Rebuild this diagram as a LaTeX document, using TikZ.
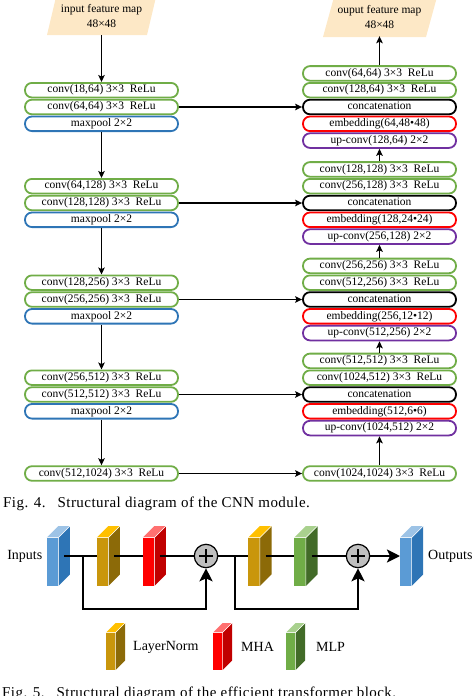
\documentclass[tikz,border=0pt]{standalone}
\usepackage{fontspec}
\setmainfont{Liberation Serif}
\usetikzlibrary{arrows.meta}
\definecolor{cgreen}{HTML}{70AD47}
\definecolor{cblue}{HTML}{2E75B6}
\definecolor{cred}{HTML}{FF0000}
\definecolor{cpurple}{HTML}{7030A0}
\definecolor{peach}{HTML}{FDE8C6}
\definecolor{bluefront}{HTML}{5B9BD5}
\definecolor{blueside}{HTML}{2E75B6}
\definecolor{bluetop}{HTML}{9DC3E6}
\definecolor{goldfront}{HTML}{C9960C}
\definecolor{goldside}{HTML}{8C6A08}
\definecolor{goldtop}{HTML}{FFC000}
\definecolor{redfront}{HTML}{FF0000}
\definecolor{redside}{HTML}{C00000}
\definecolor{redtop}{HTML}{FF7070}
\definecolor{greenfront}{HTML}{70AD47}
\definecolor{greenside}{HTML}{426B28}
\definecolor{greentop}{HTML}{A9D18E}
\newcommand{\boxfont}{\fontsize{11.5}{13}\selectfont}
\newcommand{\cubeblock}[9]{%
  \fill[#7] (#2,#3+#5) rectangle (#2+#4,#3+#6);
  \fill[#8] (#2+#4,#3+#5) -- (#2+#4+#5,#3) -- (#2+#4+#5,#3+#6-#5) -- (#2+#4,#3+#6) -- cycle;
  \fill[#9] (#2,#3+#5) -- (#2+#5,#3) -- (#2+#4+#5,#3) -- (#2+#4,#3+#5) -- cycle;
  \draw[white,line width=0.5pt] (#2+#4,#3+#6) -- (#2+#4,#3+#5) -- (#2,#3+#5) (#2+#4,#3+#5) -- (#2+#4+#5,#3);
  \node[inner sep=0pt, minimum width=#4, minimum height=#6-#5, anchor=north west] (#1) at (#2,#3+#5) {};
  \coordinate (#1w) at (#2,#3+#6/2);
  \coordinate (#1s) at (#2+#4+#5/2,#3+#6/2);
}
\begin{document}
\begin{tikzpicture}[x=1pt,y=-1pt,
  box/.style={rounded corners=7pt, line width=1.8pt, minimum width=153pt, minimum height=14.6pt,
    inner sep=0pt, font=\boxfont, text height=8pt, text depth=2.5pt, fill=white},
  gbox/.style={box, draw=cgreen},
  bbox/.style={box, draw=cblue},
  kbox/.style={box, draw=black},
  rbox/.style={box, draw=cred},
  pbox/.style={box, draw=cpurple},
  carr/.style={line width=1.5pt, -{Stealth[length=7pt,width=6.5pt,inset=1.5pt]}},
  tline/.style={line width=2.4pt},
  tarr/.style={line width=2.4pt, -{Stealth[length=13pt,width=13pt,inset=3pt]}},
  plusc/.style={circle, draw=black, line width=1.2pt, fill=black!25, minimum size=23.4pt, inner sep=0pt},
  lbl/.style={font=\fontsize{14}{16}\selectfont, inner sep=0pt},
  figcap/.style={font=\fontsize{15}{17}\selectfont\addfontfeatures{LetterSpace=3}, inner sep=0pt, anchor=base west},
  fmap/.style={inner sep=0pt, minimum width=96pt, minimum height=38pt, align=center, font=\fontsize{11.5}{15}\selectfont}
]
\useasboundingbox (0,0) rectangle (474,696);

% ---------- feature maps ----------
\fill[peach] (47,35) -- (56,-3) -- (156,-3) -- (147,35) -- cycle;
\node[fmap] (inp) at (101.5,16) {input feature map\\48×48};
\fill[peach] (323,37) -- (334,-3) -- (437,-3) -- (426,37) -- cycle;
\node[fmap] (out) at (379.5,17) {ouput feature map\\48×48};

% ---------- left column ----------
\node[gbox] (L1a) at (101.5,90.2) {conv(18,64) 3×3\ \ ReLu};
\node[gbox] (L1b) at (101.5,107) {conv(64,64) 3×3\ \ ReLu};
\node[bbox] (L1c) at (101.5,123.8) {maxpool 2×2};

\node[gbox] (L2a) at (101.5,186.2) {conv(64,128) 3×3\ \ ReLu};
\node[gbox] (L2b) at (101.5,203) {conv(128,128) 3×3\ \ ReLu};
\node[bbox] (L2c) at (101.5,219.8) {maxpool 2×2};

\node[gbox] (L3a) at (101.5,282.7) {conv(128,256) 3×3\ \ ReLu};
\node[gbox] (L3b) at (101.5,299.5) {conv(256,256) 3×3\ \ ReLu};
\node[bbox] (L3c) at (101.5,316.3) {maxpool 2×2};

\node[gbox] (L4a) at (101.5,377.7) {conv(256,512) 3×3\ \ ReLu};
\node[gbox] (L4b) at (101.5,394.5) {conv(512,512) 3×3\ \ ReLu};
\node[bbox] (L4c) at (101.5,411.3) {maxpool 2×2};

\node[gbox] (L5) at (101.5,473.5) {conv(512,1024) 3×3\ \ ReLu};

% ---------- right column ----------
\node[gbox] (R1a) at (379.5,73.4) {conv(64,64) 3×3\ \ ReLu};
\node[gbox] (R1b) at (379.5,90.2) {conv(128,64) 3×3\ \ ReLu};
\node[kbox] (R1c) at (379.5,107) {concatenation};
\node[rbox] (R1d) at (379.5,123.8) {embedding(64,48•48)};
\node[pbox] (R1e) at (379.5,140.6) {up-conv(128,64) 2×2};

\node[gbox] (R2a) at (379.5,169.4) {conv(128,128) 3×3\ \ ReLu};
\node[gbox] (R2b) at (379.5,186.2) {conv(256,128) 3×3\ \ ReLu};
\node[kbox] (R2c) at (379.5,203) {concatenation};
\node[rbox] (R2d) at (379.5,219.8) {embedding(128,24•24)};
\node[pbox] (R2e) at (379.5,236.6) {up-conv(256,128) 2×2};

\node[gbox] (R3a) at (379.5,265.9) {conv(256,256) 3×3\ \ ReLu};
\node[gbox] (R3b) at (379.5,282.7) {conv(512,256) 3×3\ \ ReLu};
\node[kbox] (R3c) at (379.5,299.5) {concatenation};
\node[rbox] (R3d) at (379.5,316.3) {embedding(256,12•12)};
\node[pbox] (R3e) at (379.5,333.1) {up-conv(512,256) 2×2};

\node[gbox] (R4a) at (379.5,360.9) {conv(512,512) 3×3\ \ ReLu};
\node[gbox] (R4b) at (379.5,377.7) {conv(1024,512) 3×3\ \ ReLu};
\node[kbox] (R4c) at (379.5,394.5) {concatenation};
\node[rbox] (R4d) at (379.5,411.3) {embedding(512,6•6)};
\node[pbox] (R4e) at (379.5,428.1) {up-conv(1024,512) 2×2};

\node[gbox] (R5) at (379.5,473.5) {conv(1024,1024) 3×3\ \ ReLu};

% ---------- CNN connectors ----------
\draw[carr] (inp.south) -- (L1a.north);
\draw[carr] (L1c.south) -- (L2a.north);
\draw[carr] (L2c.south) -- (L3a.north);
\draw[carr] (L3c.south) -- (L4a.north);
\draw[carr] (L4c.south) -- (L5.north);
\draw[carr] (L1b.east) -- (R1c.west);
\draw[carr] (L2b.east) -- (R2c.west);
\draw[carr] (L3b.east) -- (R3c.west);
\draw[carr] (L4b.east) -- (R4c.west);
\draw[carr] (L5.east) -- (R5.west);
\draw[carr] (R5.north) -- (R4e.south);
\draw[carr] (R4a.north) -- (R3e.south);
\draw[carr] (R3a.north) -- (R2e.south);
\draw[carr] (R2a.north) -- (R1e.south);
\draw[carr] (R1a.north) -- (out.south);

\node[figcap] (cap4) at (3,507) {Fig. 4.\hspace{12pt}Structural diagram of the CNN module.};

% ---------- transformer block ----------
\cubeblock{bin}{46.7}{526}{11.6}{11.6}{60}{bluefront}{blueside}{bluetop}
\cubeblock{ya}{96.7}{526}{11.6}{11.6}{60}{goldfront}{goldside}{goldtop}
\cubeblock{ma}{142.7}{526}{11.6}{11.6}{60}{redfront}{redside}{redtop}
\cubeblock{yb}{248.3}{526}{11.6}{11.6}{60}{goldfront}{goldside}{goldtop}
\cubeblock{ml}{294.3}{526}{11.6}{11.6}{60}{greenfront}{greenside}{greentop}
\cubeblock{bout}{400}{526}{11.6}{11.6}{60}{bluefront}{blueside}{bluetop}

\node[plusc] (p1) at (206,556) {};
\node[plusc] (p2) at (358,556) {};
\foreach \p in {p1,p2}{
  \draw[line width=1.8pt] ([xshift=-7pt]\p.center) -- ([xshift=7pt]\p.center);
  \draw[line width=1.8pt] ([yshift=-7pt]\p.center) -- ([yshift=7pt]\p.center);
}
\coordinate (br1) at (82.7,556);
\coordinate (br2) at (235,556);

\draw[tline] (bins) -- (yaw);
\draw[tline] (yas) -- (maw);
\draw[tline] (mas) -- (p1);
\draw[tline] (p1) -- (ybw);
\draw[tline] (ybs) -- (mlw);
\draw[tline] (mls) -- (p2);
\draw[tarr] (p2) -- (boutw);
\draw[tarr] (br1) -- ++(0,53) -| (p1.south);
\draw[tarr] (br2) -- ++(0,53) -| (p2.south);

\node[lbl, anchor=east] (tin) at (42.5,556) {Inputs};
\node[lbl, anchor=west] (tout) at (428,556) {Outputs};

% legend
\cubeblock{lga}{106}{623}{9.5}{9.5}{47}{goldfront}{goldside}{goldtop}
\cubeblock{lgb}{213}{623}{9.5}{9.5}{47}{redfront}{redside}{redtop}
\cubeblock{lgc}{286}{623}{9.5}{9.5}{47}{greenfront}{greenside}{greentop}
\node[lbl, anchor=west] (t1) at (133,647) {LayerNorm};
\node[lbl, anchor=west] (t2) at (241,647) {MHA};
\node[lbl, anchor=west] (t3) at (316,647) {MLP};

\node[figcap] (cap5) at (2,697) {Fig. 5.\hspace{12pt}Structural diagram of the efficient transformer block.};
\end{tikzpicture}
\end{document}
